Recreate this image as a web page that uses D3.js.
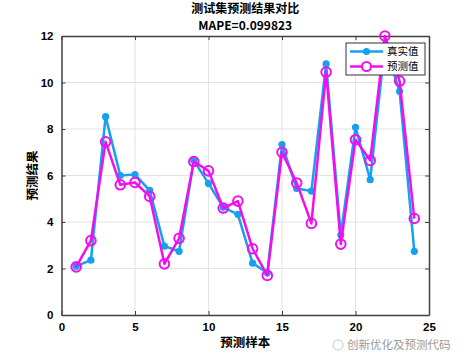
<!DOCTYPE html>
<html><head><meta charset="utf-8">
<script src="https://cdn.jsdelivr.net/npm/d3@7/dist/d3.min.js"></script>
<style>body{margin:0;background:#fff}svg{display:block}</style>
</head><body>
<svg id="c" width="474" height="355"></svg>
<script>
const samples = d3.range(1, 25);
const actual = [2.1, 2.36, 8.53, 6.0, 6.04, 5.36, 2.96, 2.74, 6.64, 5.66, 4.63, 4.33, 2.23, 1.82, 7.33, 5.44, 5.33, 10.8, 3.44, 8.07, 5.82, 11.6, 9.62, 2.74];
const predicted = [2.07, 3.2, 7.45, 5.6, 5.7, 5.1, 2.2, 3.3, 6.6, 6.2, 4.6, 4.9, 2.85, 1.7, 7.0, 5.68, 3.94, 10.45, 3.05, 7.54, 6.65, 12.0, 10.06, 4.15];
const xTicks = [0, 5, 10, 15, 20, 25];
const yTicks = [0, 2, 4, 6, 8, 10, 12];
const titleLines = ["测试集预测结果对比", "MAPE=0.099823"];
const seriesNames = ["真实值", "预测值"];

const svg = d3.select("#c");
const m = {l: 61.5, r: 45, t: 36, b: 40};
const W = 474, H = 355;
const x = d3.scaleLinear().domain([0, 25]).range([m.l, W - m.r]);
const y = d3.scaleLinear().domain([0, 12]).range([H - m.b, m.t]);
const font = "'Liberation Sans', Arial, 'Noto Sans CJK SC', sans-serif";
const blue = "#16a0ee", pink = "#f00ff0";

// grid
svg.append("g").selectAll("line.gx").data(xTicks.slice(1, -1)).join("line")
  .attr("x1", d => x(d)).attr("x2", d => x(d)).attr("y1", y(0)).attr("y2", y(12))
  .attr("stroke", "#e3e3e3").attr("stroke-width", 1);
svg.append("g").selectAll("line.gy").data(yTicks.slice(1, -1)).join("line")
  .attr("y1", d => y(d)).attr("y2", d => y(d)).attr("x1", x(0)).attr("x2", x(25))
  .attr("stroke", "#e3e3e3").attr("stroke-width", 1);

// axes
const xAxis = d3.axisBottom(x).tickValues(xTicks).tickSizeInner(-4).tickSizeOuter(0).tickPadding(8);
const yAxis = d3.axisLeft(y).tickValues(yTicks).tickSizeInner(-4).tickSizeOuter(0).tickPadding(8);
const gx = svg.append("g").attr("transform", `translate(0,${y(0)})`).call(xAxis);
const gy = svg.append("g").attr("transform", `translate(${x(0)},0)`).call(yAxis);
[gx, gy].forEach(g => {
  g.select(".domain").attr("stroke", "#404040").attr("stroke-width", 1.5);
  g.selectAll(".tick line").attr("stroke", "#404040");
  g.selectAll("text").attr("font-family", font).attr("font-weight", "bold").attr("font-size", 11.5).attr("fill", "#000");
});
const gx2 = svg.append("g").attr("transform", `translate(0,${y(12)})`).call(d3.axisTop(x).tickValues(xTicks).tickSizeInner(-4).tickSizeOuter(0).tickFormat(""));
const gy2 = svg.append("g").attr("transform", `translate(${x(25)},0)`).call(d3.axisRight(y).tickValues(yTicks).tickSizeInner(-4).tickSizeOuter(0).tickFormat(""));
[gx2, gy2].forEach(g => {
  g.select(".domain").attr("stroke", "#404040").attr("stroke-width", 1.5);
  g.selectAll(".tick line").attr("stroke", "#404040");
});

// lines
const line = d3.line().x((d, i) => x(samples[i])).y(d => y(d));
svg.append("path").datum(actual).attr("d", line).attr("fill", "none").attr("stroke", blue).attr("stroke-width", 2.5).attr("stroke-linejoin", "round");
svg.append("g").selectAll("circle").data(actual).join("circle")
  .attr("cx", (d, i) => x(samples[i])).attr("cy", d => y(d)).attr("r", 3.6).attr("fill", blue);
svg.append("path").datum(predicted).attr("d", line).attr("fill", "none").attr("stroke", pink).attr("stroke-width", 2.5).attr("stroke-linejoin", "round");
svg.append("g").selectAll("circle").data(predicted).join("circle")
  .attr("cx", (d, i) => x(samples[i])).attr("cy", d => y(d)).attr("r", 4.8)
  .attr("fill", "none").attr("stroke", pink).attr("stroke-width", 2);

// legend
const lg = svg.append("g").attr("transform", "translate(346,43)");
lg.append("rect").attr("width", 79).attr("height", 32).attr("fill", "#fff").attr("stroke", "#333").attr("stroke-width", 1);
[[blue, true], [pink, false]].forEach(([c, filled], i) => {
  const yy = 8.5 + i * 15;
  lg.append("line").attr("x1", 4).attr("x2", 37).attr("y1", yy).attr("y2", yy).attr("stroke", c).attr("stroke-width", 2.5);
  if (filled) lg.append("circle").attr("cx", 20.5).attr("cy", yy).attr("r", 3.6).attr("fill", c);
  else lg.append("circle").attr("cx", 20.5).attr("cy", yy).attr("r", 4.5).attr("fill", "#fff").attr("stroke", c).attr("stroke-width", 2);
  lg.append("text").attr("x", 41).attr("y", yy + 3.8).text(seriesNames[i])
    .attr("font-family", "'Noto Sans CJK SC', sans-serif").attr("font-size", 10.5).attr("fill", "#000");
});

// titles
titleLines.forEach((t, i) => {
  svg.append("text").attr("x", (x(0) + x(25)) / 2).attr("y", 13 + i * 17).attr("text-anchor", "middle")
    .attr("font-family", "'Noto Sans CJK SC', " + font).attr("font-weight", "bold").attr("font-size", 12)
    .attr("fill", "#000").text(t);
});
svg.append("text").attr("x", (x(0) + x(25)) / 2).attr("y", 347).attr("text-anchor", "middle")
  .attr("font-family", "'Noto Sans CJK SC', sans-serif").attr("font-weight", "bold").attr("font-size", 12.5).text("预测样本");
svg.append("text").attr("transform", `translate(37,${(y(0) + y(12)) / 2}) rotate(-90)`).attr("text-anchor", "middle")
  .attr("font-family", "'Noto Sans CJK SC', sans-serif").attr("font-weight", "bold").attr("font-size", 12.5).text("预测结果");

// watermark
svg.append("text").attr("x", 347).attr("y", 349).attr("font-family", "'Noto Sans CJK SC', sans-serif")
  .attr("font-size", 11.5).attr("fill", "#9a9a9a").attr("stroke", "#fff").attr("stroke-width", 0.6).attr("paint-order", "stroke").text("创新优化及预测代码");
svg.append("circle").attr("cx", 338).attr("cy", 345).attr("r", 5).attr("fill", "none").attr("stroke", "#c8c8c8").attr("stroke-width", 1);
</script>
</body></html>
